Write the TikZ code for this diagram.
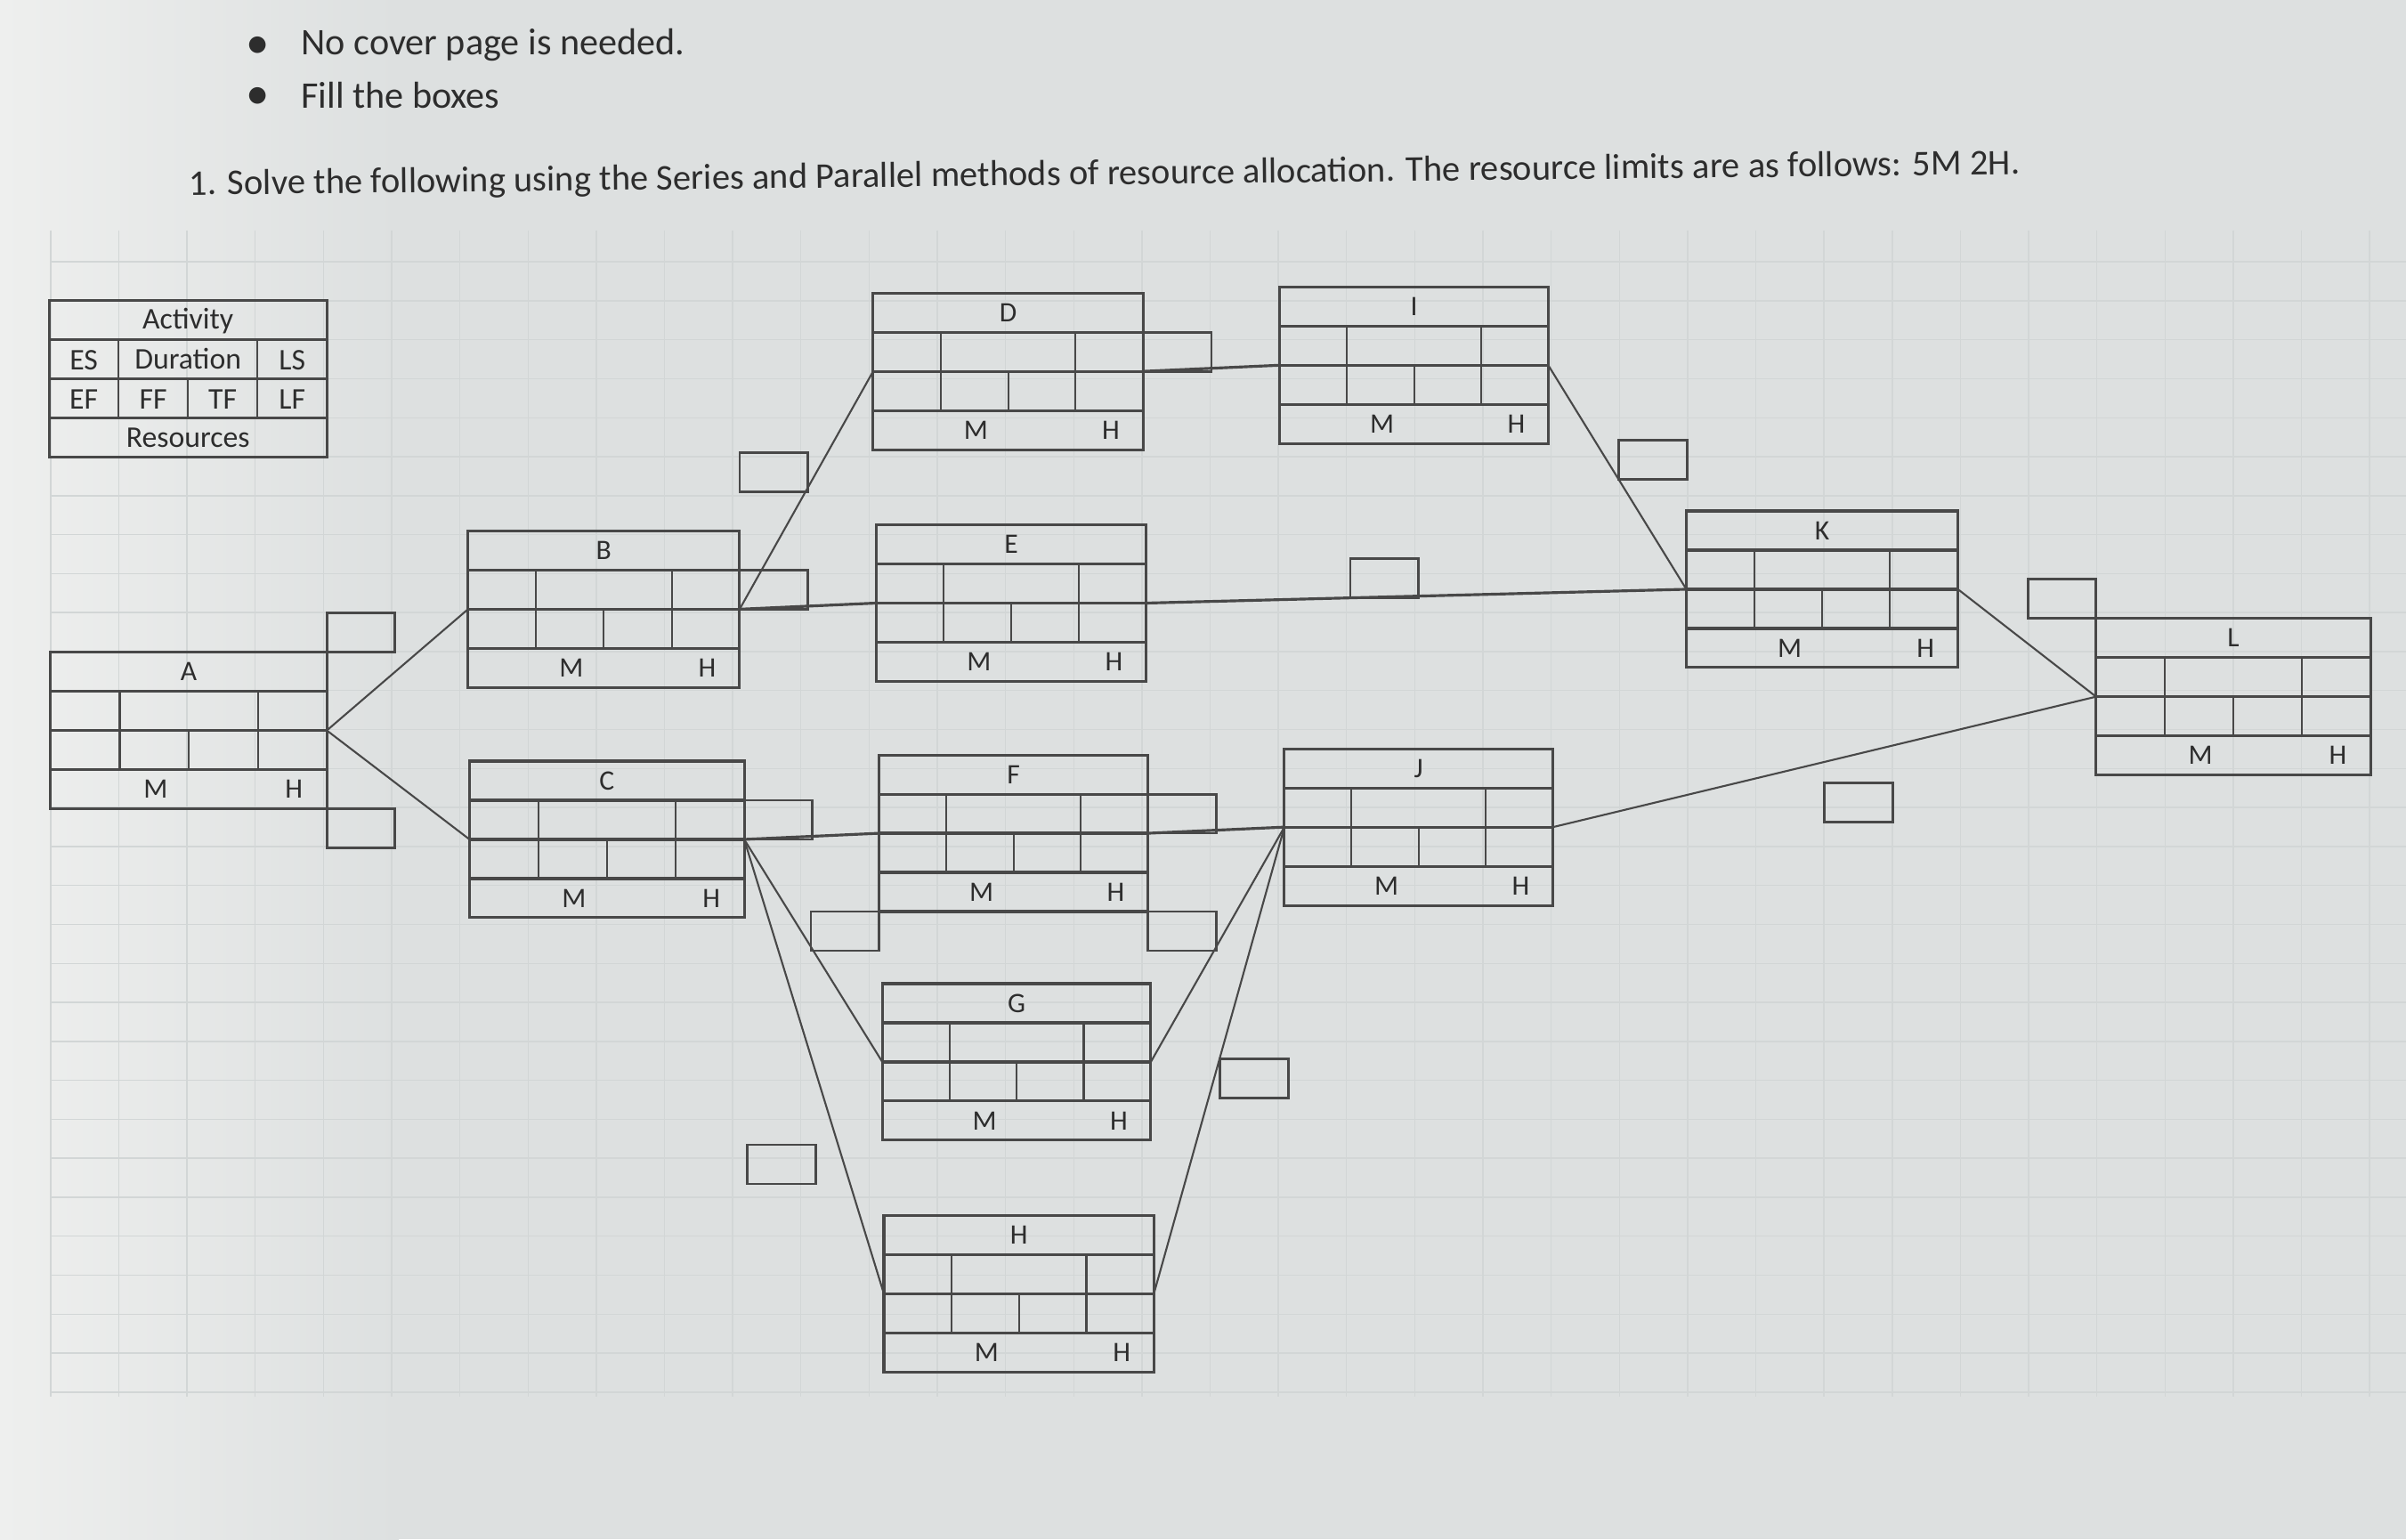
\documentclass[tikz,border=0pt]{standalone}
\usepackage{fontspec}
\setmainfont{Carlito}
\newcommand{\pxu}{0.017239cm}
\definecolor{paper}{RGB}{221,224,224}
\definecolor{paperlight}{RGB}{238,239,238}
\definecolor{gridc}{RGB}{210,214,214}
\definecolor{ink}{RGB}{72,72,72}
\definecolor{txt}{RGB}{45,45,45}
\tikzset{
  actbox/.style={draw=ink, line width=0.9pt, rectangle, inner sep=0pt, outer sep=0pt, minimum height={102*\pxu}},
  hline/.style={draw=ink, line width=0.9pt},
  vline/.style={draw=ink, line width=0.6pt},
  sbox/.style={draw=ink, line width=0.8pt, rectangle, inner sep=0pt, outer sep=0pt, minimum width={44.5*\pxu}, minimum height={25.5*\pxu}},
  lab/.style={text=txt, font=\fontsize{9}{10}\selectfont, inner sep=0pt},
  leg/.style={text=txt, font=\fontsize{9.6}{11}\selectfont, inner sep=0pt},
  link/.style={draw=ink, line width=0.6pt},
  hlink/.style={draw=ink, line width=0.9pt},
  head/.style={text=txt, font=\fontsize{12}{14}\selectfont, inner sep=0pt, anchor=west},
  bul/.style={text=txt, font=\fontsize{15}{15}\selectfont, inner sep=0pt},
}
% #1 name, #2 left x, #3 top y, #4 width, #5 label
\newcommand{\actnode}[5]{%
  \node[actbox, minimum width={#4*\pxu}, anchor=north west] (#1) at (#2,#3) {};
  \draw[hline] (#2,#3+25.5) -- ++(#4,0) (#2,#3+51) -- ++(#4,0) (#2,#3+76.5) -- ++(#4,0);
  \draw[vline] (#2+#4/4,#3+25.5) -- ++(0,51) (#2+#4*3/4,#3+25.5) -- ++(0,51) (#2+#4/2,#3+51) -- ++(0,25.5);
  \node[lab] (#1-n) at (#2+#4/2,#3+12.75) {#5};
  \node[lab] (#1-m) at (#2+#4*3/8+1,#3+89.25) {M};
  \node[lab] (#1-h) at (#2+#4*7/8+1,#3+89.25) {H};
}
\begin{document}
\begin{tikzpicture}[x=0.017239cm, y=-0.017239cm]
\useasboundingbox (0,0) rectangle (1568,1003);
% paper
\fill[paper] (0,0) rectangle (1568,1003);
\shade[left color=paperlight, right color=paper] (0,0) rectangle (260,1003);
% faint spreadsheet grid
\foreach \k in {0,...,34} {\draw[gridc, line width=0.4pt] (33+44.45*\k,150) -- (33+44.45*\k,910);}
\foreach \k in {-1,...,28} {\draw[gridc, line width=0.4pt] (33,196+25.4*\k) -- (1568,196+25.4*\k);}

% header
\node[bul] (b1) at (168,31) {•};
\node[bul] (b2) at (168,64) {•};
\node[head] (t1) at (196,29) {No cover page is needed.};
\node[head] (t2) at (196,62) {Fill the boxes};
\node[head, font=\fontsize{11.55}{14}\selectfont, rotate=0.65] (q1) at (123,121) {1. Solve the following using the Series and Parallel methods of resource allocation. The resource limits are as follows: 5M 2H.};

% legend
\node[actbox, minimum width={181*\pxu}, anchor=north west] (legend) at (32,196) {};
\draw[hline] (32,221.5) -- ++(181,0) (32,247) -- ++(181,0) (32,272.5) -- ++(181,0);
\draw[vline] (77.25,221.5) -- ++(0,51) (167.75,221.5) -- ++(0,51) (122.5,247) -- ++(0,25.5);
\node[leg] (lg-act) at (122.5,209) {Activity};
\node[leg] (lg-es) at (54.6,235) {ES};
\node[leg] (lg-dur) at (122.5,234) {Duration};
\node[leg] (lg-ls) at (190.4,235) {LS};
\node[leg] (lg-ef) at (54.6,260.5) {EF};
\node[leg] (lg-ff) at (99.9,260.5) {FF};
\node[leg] (lg-tf) at (145.1,260.5) {TF};
\node[leg] (lg-lf) at (190.4,260.5) {LF};
\node[leg] (lg-res) at (122.5,285.5) {Resources};

% activities
\actnode{A}{33}{425}{180}{A}
\actnode{B}{305}{346}{177}{B}
\actnode{C}{306}{496}{179}{C}
\actnode{D}{569}{191}{176}{D}
\actnode{E}{571}{342}{176}{E}
\actnode{F}{573}{492}{175}{F}
\actnode{G}{575}{641}{175}{G}
\actnode{H}{576}{792}{176}{H}
\actnode{I}{834}{187}{175}{I}
\actnode{J}{837}{488}{175}{J}
\actnode{K}{1099}{333}{177}{K}
\actnode{L}{1366}{403}{179}{L}

% connectors
\draw[link] (A.east) -- (B.west);
\draw[link] (A.east) -- (C.west);
\draw[link] (B.east) -- (D.west);
\draw[hlink] (B.east) -- (E.west);
\draw[hlink] (C.east) -- (F.west);
\draw[link] (C.east) -- (G.west);
\draw[link] (C.east) -- (H.west);
\draw[hlink] (D.east) -- (I.west);
\draw[hlink] (E.east) -- (K.west);
\draw[hlink] (F.east) -- (J.west);
\draw[link] (G.east) -- (J.west);
\draw[link] (H.east) -- (J.west);
\draw[link] (I.east) -- (K.west);
\draw[link] (K.east) -- (L.west);
\draw[link] (J.east) -- (L.west);

% small boxes
\node[sbox, anchor=south west] (sA1) at (A.north east) {};
\node[sbox, anchor=north west] (sA2) at (A.south east) {};
\node[sbox, anchor=south west] (sB) at (B.east) {};
\node[sbox, anchor=south west] (sC) at (C.east) {};
\node[sbox, anchor=south west] (sD) at (D.east) {};
\node[sbox, anchor=south west] (sF1) at (F.east) {};
\node[sbox, anchor=north east] (sF2) at (F.south west) {};
\node[sbox, anchor=north west] (sF3) at (F.south east) {};
\node[sbox, anchor=south east] (sL) at (L.north west) {};
\node[sbox, anchor=north west] (s1) at (482,295) {};
\node[sbox, anchor=north west] (s2) at (880,364) {};
\node[sbox, anchor=north west] (s3) at (795,690) {};
\node[sbox, anchor=north west] (s4) at (487,746) {};
\node[sbox, anchor=north west] (s5) at (1055,287) {};
\node[sbox, anchor=north west] (s6) at (1189,510) {};
\end{tikzpicture}
\end{document}
